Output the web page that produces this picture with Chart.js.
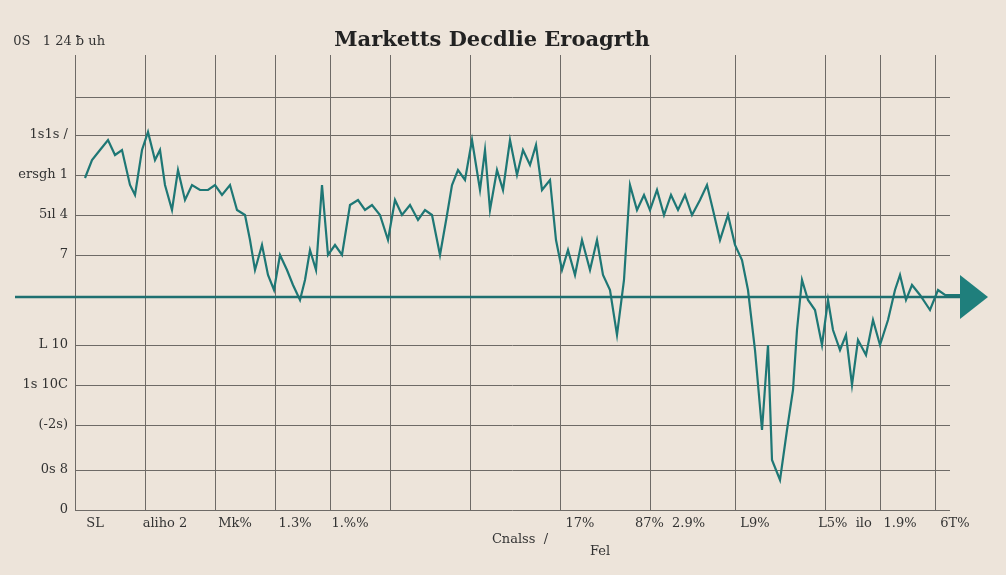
<!DOCTYPE html>
<html>
<head>
<meta charset="utf-8">
<script src="https://cdn.jsdelivr.net/npm/chart.js@4/dist/chart.umd.min.js"></script>
<style>
  html, body { margin: 0; background: #ede4da; }
  #wrap { width: 1006px; height: 575px; position: relative; }
</style>
</head>
<body>
<div id="wrap"><canvas id="c" width="1006" height="575"></canvas></div>
<script>
// positions along the horizontal axis
var xs = [85,92,100,108,115,122,130,135,142,148,155,160,165,172,178,185,192,200,208,215,222,230,237,245,250,255,262,268,274,280,287,293,300,305,310,316,322,328,335,342,350,358,365,372,380,388,395,402,410,418,425,432,440,447,452,458,465,472,480,485,490,497,503,510,517,523,530,536,542,550,556,562,568,575,582,590,597,603,610,617,624,630,637,644,650,657,664,671,678,685,692,700,707,713,720,728,735,742,748,755,762,768,772,780,787,793,797,802,808,815,822,828,833,840,846,852,858,866,873,880,888,895,900,906,912,920,930,938,945,960];
// series values (0 = the horizontal axis)
var vals = [119,137,147,157,142,147,112,102,147,165,137,147,112,87,127,97,112,107,107,112,102,112,87,82,57,27,52,22,7,42,27,12,-3,17,47,27,112,42,52,42,92,97,87,92,82,57,97,82,92,77,87,82,42,82,112,127,117,157,107,147,87,127,107,157,122,147,132,152,107,117,57,27,47,22,57,27,57,22,7,-38,17,112,87,102,87,107,82,102,87,102,82,97,112,87,57,82,52,37,7,-53,-133,-48,-163,-183,-133,-93,-33,17,-3,-13,-48,-3,-33,-53,-38,-88,-43,-58,-23,-48,-23,7,22,-3,12,2,-13,7,2,2];
// gridline positions and their (garbled) labels
var yGrid = [200,162,122,82,42,0,-48,-88,-128,-173,-213];
var yLabels = ['','1s1s /','ersgh 1','5ıl 4','7','','L 10','1s 10C','(-2s)','0s 8','0'];
var xGrid = [75,145,215,275,330,390,470,560,650,735,825,880,935];
var xLabels = ['SL','aliho 2','Mk%','1.3%','1.%%','','','17%','87%  2.9%','L9%','L5%  ilo','1.9%','6T%'];

var grid = {
  id: 'grid',
  beforeDatasetsDraw: function(chart) {
    var ctx = chart.ctx, x = chart.scales.x, y = chart.scales.y;
    var top = y.getPixelForValue(242), bot = y.getPixelForValue(-213);
    var l = x.getPixelForValue(75), r = x.getPixelForValue(950);
    ctx.save();
    ctx.strokeStyle = '#6e6a66'; ctx.lineWidth = 1;
    yGrid.forEach(function(v) {
      if (v === 0) return;
      var p = Math.round(y.getPixelForValue(v)) + 0.5;
      ctx.beginPath(); ctx.moveTo(l, p); ctx.lineTo(r, p); ctx.stroke();
    });
    xGrid.forEach(function(v) {
      var p = Math.round(x.getPixelForValue(v)) + 0.5;
      ctx.beginPath(); ctx.moveTo(p, top); ctx.lineTo(p, bot); ctx.stroke();
    });
    ctx.fillStyle = '#333'; ctx.font = '13px "DejaVu Serif", serif';
    ctx.textAlign = 'right'; ctx.textBaseline = 'middle';
    yGrid.forEach(function(v, i) { ctx.fillText(yLabels[i], 68, y.getPixelForValue(v)); });
    ctx.fillText('0S   1 24 ƀ uh', 105, 42);
    ctx.textAlign = 'center';
    xGrid.forEach(function(v, i) { ctx.fillText(xLabels[i], x.getPixelForValue(v) + 20, 524); });
    ctx.fillText('Cnalss  /', 520, 540);
    ctx.fillText('Fel', 600, 552);
    ctx.restore();
  },
  afterDatasetsDraw: function(chart) {
    var ctx = chart.ctx, x = chart.scales.x, y = chart.scales.y;
    var p0 = y.getPixelForValue(0);
    ctx.save();
    ctx.strokeStyle = '#1f6f70'; ctx.lineWidth = 2.5;
    ctx.beginPath(); ctx.moveTo(15, p0); ctx.lineTo(965, p0); ctx.stroke();
    ctx.fillStyle = '#1f7f7c';
    ctx.beginPath(); ctx.moveTo(960, p0 - 22); ctx.lineTo(988, p0); ctx.lineTo(960, p0 + 22); ctx.closePath(); ctx.fill();
    ctx.restore();
  }
};

new Chart(document.getElementById('c'), {
  type: 'line',
  data: {
    datasets: [{
      data: xs.map(function(v, i) { return { x: v, y: vals[i] }; }),
      borderColor: '#1e7775',
      borderWidth: 2.2,
      pointRadius: 0,
      tension: 0,
      fill: false
    }]
  },
  options: {
    responsive: false,
    animation: false,
    layout: { padding: { left: 75, right: 16, top: 55, bottom: 65 } },
    plugins: {
      legend: { display: false },
      tooltip: { enabled: false },
      title: { display: false }
    },
    scales: {
      x: { type: 'linear', min: 75, max: 990, display: false },
      y: { min: -213, max: 242, display: false }
    }
  },
  plugins: [grid, {
    id: 'ttl',
    afterDraw: function(chart) {
      var ctx = chart.ctx;
      ctx.save();
      ctx.fillStyle = '#222'; ctx.font = 'bold 21px "DejaVu Serif", serif';
      ctx.textAlign = 'center';
      ctx.fillText('Marketts Decdlie Eroagrth', 492, 46);
      ctx.restore();
    }
  }]
});
</script>
</body>
</html>
